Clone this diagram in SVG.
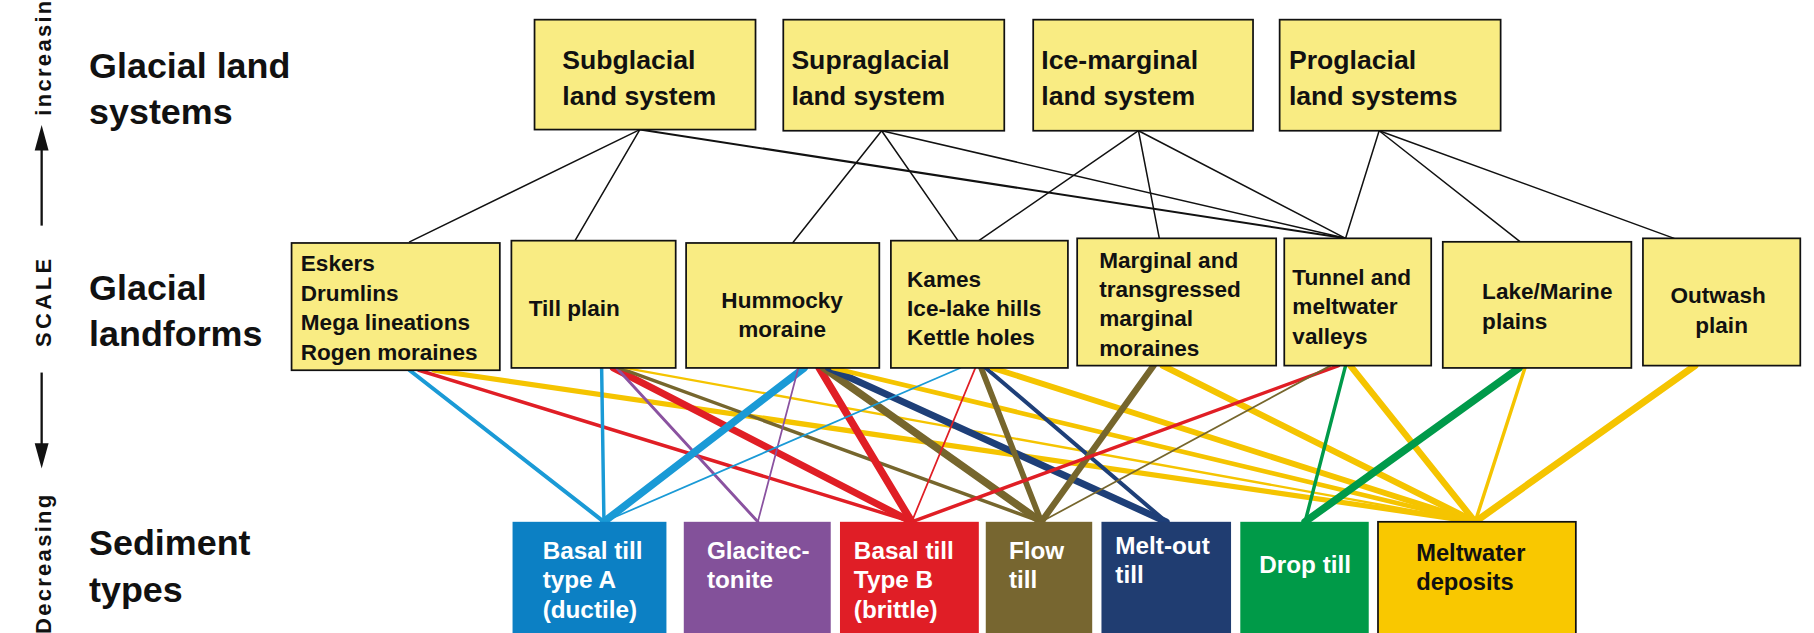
<svg xmlns="http://www.w3.org/2000/svg" width="1814" height="633" viewBox="0 0 1814 633">
<style>
text{font-family:"Liberation Sans",Arial,sans-serif;font-weight:bold}
.lab{font-size:31px;fill:#111}
.t{font-size:23px;fill:#111}
.m{font-size:19.5px;fill:#111}
.w{font-size:21px;fill:#fff}
.box{fill:#f9ec83;stroke:#111;stroke-width:1.5}
.k{stroke:#111;stroke-width:1.3;fill:none}
.c line{fill:none;stroke-linecap:round}
</style>
<rect width="1814" height="633" fill="#fff"/>
<g transform="scale(1.157)">
<g id="axis">
<text transform="translate(44,548) rotate(-90)" style="font-size:19px;letter-spacing:2px;fill:#111">Decreasing</text>
<text transform="translate(44,300) rotate(-90)" style="font-size:19px;letter-spacing:3px;fill:#111">SCALE</text>
<text transform="translate(44,100) rotate(-90)" style="font-size:19px;letter-spacing:2px;fill:#111">increasing</text>
<line x1="36" y1="195" x2="36" y2="128" stroke="#111" stroke-width="2"/>
<polygon points="36,108 30,130 42,130" fill="#111"/>
<line x1="36" y1="322" x2="36" y2="385" stroke="#111" stroke-width="2"/>
<polygon points="36,405 30,383 42,383" fill="#111"/>
</g>
<g id="labels">
<text class="lab" x="77" y="67">Glacial land</text><text class="lab" x="77" y="107">systems</text>
<text class="lab" x="77" y="259">Glacial</text><text class="lab" x="77" y="299">landforms</text>
<text class="lab" x="77" y="480">Sediment</text><text class="lab" x="77" y="520">types</text>
</g>
<g id="connectors" class="c">
<line class="k" x1="553" y1="112" x2="354" y2="209"/>
<line class="k" x1="553" y1="112" x2="497" y2="208"/>
<line class="k" x1="553" y1="112" x2="1163" y2="206" style="stroke-width:1.8"/>
<line class="k" x1="762" y1="113" x2="685" y2="210"/>
<line class="k" x1="762" y1="113" x2="828" y2="208"/>
<line class="k" x1="762" y1="113" x2="1163" y2="206"/>
<line class="k" x1="984" y1="113" x2="846" y2="208"/>
<line class="k" x1="984" y1="113" x2="1002" y2="206"/>
<line class="k" x1="984" y1="113" x2="1163" y2="206"/>
<line class="k" x1="1192" y1="113" x2="1163" y2="206"/>
<line class="k" x1="1192" y1="113" x2="1314" y2="209"/>
<line class="k" x1="1192" y1="113" x2="1447" y2="206"/>
<line x1="354" y1="320" x2="522" y2="451" stroke="#1a9ad6" stroke-width="3.5"/>
<line x1="362" y1="320" x2="788" y2="451" stroke="#e01e25" stroke-width="3"/>
<line x1="375" y1="320" x2="1275" y2="451" stroke="#f5c400" stroke-width="4.5"/>
<line x1="520" y1="318" x2="522" y2="451" stroke="#1a9ad6" stroke-width="3"/>
<line x1="530" y1="318" x2="788" y2="451" stroke="#e01e25" stroke-width="6"/>
<line x1="533" y1="318" x2="655" y2="451" stroke="#8a52a0" stroke-width="2.5"/>
<line x1="535" y1="318" x2="900" y2="451" stroke="#76662d" stroke-width="3"/>
<line x1="540" y1="318" x2="1275" y2="451" stroke="#f5c400" stroke-width="2"/>
<line x1="695" y1="318" x2="522" y2="451" stroke="#1a9ad6" stroke-width="6.5"/>
<line x1="690" y1="318" x2="655" y2="451" stroke="#8a52a0" stroke-width="1.5"/>
<line x1="708" y1="318" x2="788" y2="451" stroke="#e01e25" stroke-width="6.5"/>
<line x1="712" y1="318" x2="900" y2="451" stroke="#76662d" stroke-width="6.5"/>
<line x1="716" y1="318" x2="1008" y2="451" stroke="#1e3f78" stroke-width="6"/>
<line x1="720" y1="318" x2="1275" y2="451" stroke="#f5c400" stroke-width="4"/>
<line x1="830" y1="318" x2="522" y2="451" stroke="#1a9ad6" stroke-width="1.5"/>
<line x1="843" y1="318" x2="788" y2="451" stroke="#e01e25" stroke-width="1.5"/>
<line x1="848" y1="318" x2="900" y2="451" stroke="#76662d" stroke-width="5"/>
<line x1="852" y1="318" x2="1008" y2="451" stroke="#1e3f78" stroke-width="3.5"/>
<line x1="858" y1="318" x2="1275" y2="451" stroke="#f5c400" stroke-width="5"/>
<line x1="997" y1="316" x2="900" y2="451" stroke="#76662d" stroke-width="5.5"/>
<line x1="1005" y1="316" x2="1275" y2="451" stroke="#f5c400" stroke-width="5.5"/>
<line x1="1157" y1="316" x2="788" y2="451" stroke="#e01e25" stroke-width="3"/>
<line x1="1150" y1="316" x2="900" y2="451" stroke="#76662d" stroke-width="1.5"/>
<line x1="1163" y1="316" x2="1128" y2="451" stroke="#009a4a" stroke-width="3"/>
<line x1="1167" y1="316" x2="1275" y2="451" stroke="#f5c400" stroke-width="5.5"/>
<line x1="1313" y1="318" x2="1128" y2="451" stroke="#009a4a" stroke-width="6.5"/>
<line x1="1318" y1="318" x2="1275" y2="451" stroke="#f5c400" stroke-width="3"/>
<line x1="1465" y1="316" x2="1275" y2="451" stroke="#f5c400" stroke-width="6"/>
</g>
<g id="n-subglacial"><rect class="box" x="462" y="17" width="191" height="95"/><text class="t" x="486" y="60">Subglacial</text><text class="t" x="486" y="91">land system</text></g>
<g id="n-supraglacial"><rect class="box" x="677" y="17" width="191" height="96"/><text class="t" x="684" y="60">Supraglacial</text><text class="t" x="684" y="91">land system</text></g>
<g id="n-icemarginal"><rect class="box" x="893" y="17" width="190" height="96"/><text class="t" x="900" y="60">Ice-marginal</text><text class="t" x="900" y="91">land system</text></g>
<g id="n-proglacial"><rect class="box" x="1106" y="17" width="191" height="96"/><text class="t" x="1114" y="60">Proglacial</text><text class="t" x="1114" y="91">land systems</text></g>
<g id="n-eskers"><rect class="box" x="252" y="210" width="180" height="110"/><text class="m" x="260" y="234">Eskers</text><text class="m" x="260" y="260">Drumlins</text><text class="m" x="260" y="285">Mega lineations</text><text class="m" x="260" y="311">Rogen moraines</text></g>
<g id="n-tillplain"><rect class="box" x="442" y="208" width="142" height="110"/><text class="m" x="457" y="273">Till plain</text></g>
<g id="n-hummocky"><rect class="box" x="593" y="210" width="167" height="108"/><text class="m" x="676" y="266" text-anchor="middle">Hummocky</text><text class="m" x="676" y="291" text-anchor="middle">moraine</text></g>
<g id="n-kames"><rect class="box" x="770" y="208" width="153" height="110"/><text class="m" x="784" y="248">Kames</text><text class="m" x="784" y="273">Ice-lake hills</text><text class="m" x="784" y="298">Kettle holes</text></g>
<g id="n-marginal"><rect class="box" x="931" y="206" width="172" height="110"/><text class="m" x="950" y="232">Marginal and</text><text class="m" x="950" y="257">transgressed</text><text class="m" x="950" y="282">marginal</text><text class="m" x="950" y="308">moraines</text></g>
<g id="n-tunnel"><rect class="box" x="1110" y="206" width="127" height="110"/><text class="m" x="1117" y="246">Tunnel and</text><text class="m" x="1117" y="271">meltwater</text><text class="m" x="1117" y="297">valleys</text></g>
<g id="n-lake"><rect class="box" x="1247" y="209" width="163" height="109"/><text class="m" x="1281" y="258">Lake/Marine</text><text class="m" x="1281" y="284">plains</text></g>
<g id="n-outwash"><rect class="box" x="1420" y="206" width="136" height="110"/><text class="m" x="1485" y="262" text-anchor="middle">Outwash</text><text class="m" x="1488" y="288" text-anchor="middle">plain</text></g>
<g id="n-basalA"><rect x="443" y="451" width="133" height="100" fill="#0c80c4"/><text class="w" x="469" y="483">Basal till</text><text class="w" x="469" y="508">type A</text><text class="w" x="469" y="534">(ductile)</text></g>
<g id="n-glacitectonite"><rect x="591" y="451" width="127" height="100" fill="#83519a"/><text class="w" x="611" y="483">Glacitec-</text><text class="w" x="611" y="508">tonite</text></g>
<g id="n-basalB"><rect x="726" y="451" width="120" height="100" fill="#e01e26"/><text class="w" x="738" y="483">Basal till</text><text class="w" x="738" y="508">Type B</text><text class="w" x="738" y="534">(brittle)</text></g>
<g id="n-flow"><rect x="852" y="451" width="92" height="100" fill="#776630"/><text class="w" x="872" y="483">Flow</text><text class="w" x="872" y="508">till</text></g>
<g id="n-meltout"><rect x="952" y="451" width="112" height="100" fill="#203d71"/><text class="w" x="964" y="479">Melt-out</text><text class="w" x="964" y="504">till</text></g>
<g id="n-drop"><rect x="1072" y="451" width="111" height="100" fill="#009a48"/><text class="w" x="1128" y="495" text-anchor="middle">Drop till</text></g>
<g id="n-meltwater"><rect x="1191" y="451" width="171" height="100" fill="#f9c800" stroke="#111" stroke-width="1.5"/><text class="m" x="1224" y="485" style="font-size:20.5px">Meltwater</text><text class="m" x="1224" y="510" style="font-size:20.5px">deposits</text></g>
</g>
</svg>
